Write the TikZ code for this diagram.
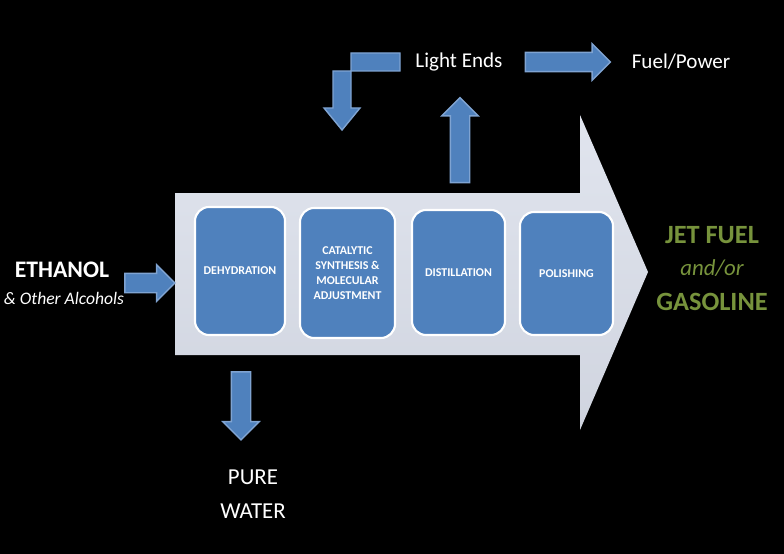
\documentclass[tikz,border=0pt]{standalone}
\usepackage{fontspec}
\setmainfont{Carlito}
\usetikzlibrary{shapes.arrows}
\definecolor{stepblue}{HTML}{4F81BD}
\definecolor{edgeblue}{HTML}{7FA3D1}
\definecolor{fuelgreen}{HTML}{77933C}
\definecolor{bigarrow}{HTML}{D9DEEA}
\tikzset{
  procstep/.style={draw=white, line width=1.2pt, fill=stepblue, rounded corners=8pt,
    text=white, font=\fontsize{6.8}{8.4}\selectfont\bfseries, align=center},
  flow/.style={single arrow, draw=edgeblue, fill=stepblue, line width=0.8pt,
    single arrow head extend=0.17cm, inner sep=0pt, text width=0pt,
    text height=0.18cm, text depth=0.18cm},
  label/.style={text=white, font=\fontsize{12}{14}\selectfont}
}
\begin{document}
\begin{tikzpicture}[x=0.02cm, y=-0.02cm]
  \useasboundingbox (0,0) rectangle (784,554);
  \fill[black] (0,0) rectangle (784,554);
%  main process arrow
  \shade[top color=bigarrow!80!white, bottom color=bigarrow!90!gray, draw=none]
    (175,193) -- (580,193) -- (580,115) -- (648,272) -- (580,430) -- (580,355) -- (175,355) -- cycle;
%  process steps
  \draw[procstep] (195,207) rectangle (285,335) node[pos=.5] (dehyd) {DEHYDRATION};
  \draw[procstep] (300,208) rectangle (395,338) node[pos=.5] (synth) {CATALYTIC\\SYNTHESIS \&\\MOLECULAR\\ADJUSTMENT};
  \draw[procstep] (412,210) rectangle (505,335) node[pos=.5] (dist) {DISTILLATION};
  \draw[procstep] (520,212) rectangle (613,335) node[pos=.5] (polish) {POLISHING};
%  side streams
  \node[flow, minimum height=1cm] (inarrow) at (145,283) {};
  \node[flow, minimum height=1.36cm, rotate=-90] (waterarrow) at (241,401) {};
  \node[flow, minimum height=1.7cm, rotate=90] (upArrow) at (460,145) {};
  \node[flow, minimum height=1.7cm] (powerarrow) at (563,62) {};
  \draw[draw=edgeblue, fill=stepblue, line width=0.8pt]
    (400,53) -- (351,53) -- (351,108) -- (360,108) -- (342,130) -- (324,108) -- (333,108)
    -- (333,71) -- (400,71) -- cycle;
%  labels
  \node[label, font=\fontsize{13.5}{15}\selectfont\bfseries] (ethanol) at (62,270) {ETHANOL};
  \node[label, font=\fontsize{10}{12}\selectfont\itshape] (others) at (64,298) {\&~Other Alcohols};
  \node[label, align=center, font=\fontsize{13}{19}\selectfont] (water) at (253,494) {PURE\\WATER};
  \node[label] (lightends) at (459,62) {Light Ends};
  \node[label] (power) at (681,62) {Fuel/Power};
  \node[text=fuelgreen, font=\fontsize{15}{17}\selectfont\bfseries] (jet) at (712,235) {JET FUEL};
  \node[text=fuelgreen, font=\fontsize{13}{15}\selectfont\itshape] (andor) at (712,268) {and/or};
  \node[text=fuelgreen, font=\fontsize{15}{17}\selectfont\bfseries] (gas) at (712,302) {GASOLINE};
\end{tikzpicture}
\end{document}
